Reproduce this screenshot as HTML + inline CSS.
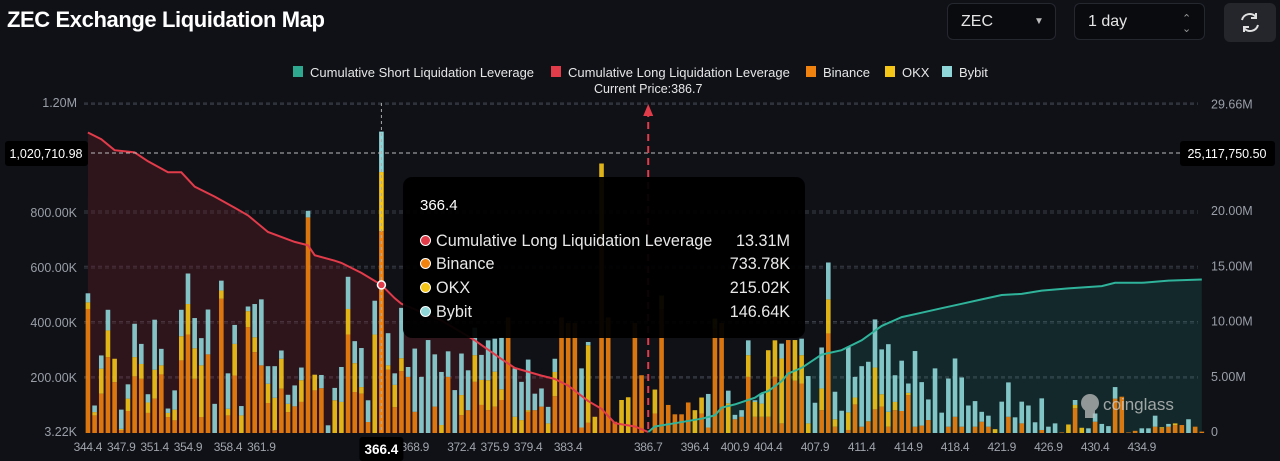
<!DOCTYPE html>
<html><head><meta charset="utf-8">
<style>
html,body{margin:0;padding:0;background:#0f1117;width:1280px;height:461px;overflow:hidden;font-family:"Liberation Sans Narrow","Liberation Sans",sans-serif;}
#root{position:relative;width:1280px;height:461px;}
.title{position:absolute;left:7px;top:7px;color:#fff;font-family:"Liberation Sans",sans-serif;font-weight:bold;font-size:22px;letter-spacing:-0.4px;}
.sel{position:absolute;top:3px;height:37px;background:#0a0b0f;border:1px solid #262830;border-radius:6px;box-sizing:border-box;color:#e6e6e6;font-size:16px;line-height:35px;padding-left:13px;}
.btn{position:absolute;left:1224px;top:3px;width:52px;height:39px;background:#24262c;border-radius:6px;}
svg{position:absolute;left:0;top:0;}
.tip{position:absolute;left:403px;top:177px;width:402px;height:161px;background:rgba(0,0,0,0.95);border-radius:9px;color:#e8e8e8;font-family:"Liberation Sans",sans-serif;}
.tip .hd{position:absolute;left:17px;top:20px;font-size:15px;color:#fff;}
.row{position:absolute;left:17px;width:370px;font-size:16.2px;height:20px;line-height:20px;}
.row .dot{display:inline-block;width:9px;height:9px;border-radius:50%;border:1px solid #fff;margin-right:5px;vertical-align:0px;}
.row .v{position:absolute;right:0;top:0;}
</style></head>
<body>
<div id="root">
<div class="title">ZEC Exchange Liquidation Map</div>
<div class="sel" style="left:947px;width:109px;">ZEC<span style="position:absolute;left:86px;top:0;font-size:10px;color:#bbb;">▼</span></div>
<div class="sel" style="left:1074px;width:131px;">1 day<span style="position:absolute;left:107px;top:-2px;font-size:11px;color:#999;line-height:10px;padding-top:12px;">⌃<br>⌄</span></div>
<div class="btn">
<svg width="52" height="39" viewBox="0 0 52 39" style="position:absolute;left:0;top:0"><path d="M18 17a8 8 0 0 1 14-3M34 22a8 8 0 0 1-14 3" stroke="#e0e0e0" stroke-width="2" fill="none"/><path d="M32 10v5h-5M20 29v-5h5" stroke="#e0e0e0" stroke-width="2" fill="none"/></svg>
</div>
<svg id="chart" width="1280" height="461"></svg>
<div class="tip">
<div class="hd">366.4</div>
<div class="row" style="top:54px"><span class="dot" style="background:#e23b4a"></span>Cumulative Long Liquidation Leverage<span class="v">13.31M</span></div>
<div class="row" style="top:77px"><span class="dot" style="background:#f0820f"></span>Binance<span class="v">733.78K</span></div>
<div class="row" style="top:101px"><span class="dot" style="background:#f5c518"></span>OKX<span class="v">215.02K</span></div>
<div class="row" style="top:125px"><span class="dot" style="background:#8ed6d8"></span>Bybit<span class="v">146.64K</span></div>
</div>
</div>
<script>
const binance=[451,64,143,276,185,10,80,206,197,73,125,213,58,46,264,358,197,58,286,0,488,64,209,0,385,294,246,109,10,161,76,97,113,784,155,163,0,0,0,358,149,143,40,0,734,230,94,225,
204,77,0,0,96,0,204,0,65,83,186,102,83,96,120,420,0,0,77,83,96,0,134,420,400,400,20,37,0,700,420,41,0,0,400,210,0,71,450,102,68,68,111,0,71,20,380,400,0,50,59,204,59,59,59,204,35,338,190,180,
0,0,83,362,23,0,11,104,23,41,86,96,23,83,80,138,23,27,47,0,0,23,59,23,0,23,41,23,0,0,59,0,35,0,0,11,0,0,2,0,90,0,0,41,0,0,125,132,2,8,0,0,23,17,23,29,29,0,23,5];
const okx=[24,12,91,97,85,5,45,70,54,38,105,33,15,39,88,111,111,188,0,0,30,24,115,64,58,54,0,70,118,109,30,0,79,0,57,0,0,119,113,93,105,24,0,358,215,16,81,47,
0,0,0,0,0,29,0,0,73,0,97,91,109,127,39,0,59,47,6,0,0,35,88,0,0,0,0,282,59,280,0,0,120,130,0,0,0,87,50,0,0,0,0,83,58,0,36,0,108,0,0,79,54,48,242,133,236,0,148,103,
35,0,79,124,27,0,64,25,0,2,152,45,54,30,0,8,0,0,0,0,0,0,0,0,0,0,0,0,14,0,0,0,0,0,0,0,0,0,0,31,12,19,0,0,0,0,0,0,0,0,0,0,0,4,0,6,0,0,0,0];
const bybit=[33,24,48,75,0,70,52,121,73,30,182,60,16,70,96,111,110,99,163,106,36,129,69,34,17,121,240,64,115,30,33,76,46,24,0,48,28,45,127,117,80,142,79,123,147,117,42,183,
36,230,204,338,190,193,93,156,151,145,100,91,145,120,190,0,176,139,184,60,66,60,48,0,0,0,215,12,0,0,0,0,0,0,0,0,0,0,0,0,0,0,0,0,0,122,0,0,46,16,24,54,6,36,0,0,54,0,0,60,
172,110,149,134,100,81,238,75,220,216,175,163,246,97,183,34,275,158,75,235,74,175,212,179,100,93,36,40,0,114,125,57,79,100,39,115,23,35,0,0,18,0,17,30,33,25,42,0,0,0,17,17,40,0,10,0,0,50,0,0];
const longIdx=[0,2,4,7,9,12,14,16,19,22,24,27,31,33,34,37,38,41,44,46,47,53,58,62,64,68,70,72,75,77,79,82,84];
const longVal=[27.1,26.5,25.5,25.3,24.5,23.5,23.5,22.2,21.3,20.3,19.6,18.1,17.2,16.9,16.0,15.5,15.3,14.4,13.31,12.1,11.6,10.1,8.3,6.6,5.8,5.1,4.8,4.2,2.8,2.1,0.8,0.5,0];
const shortIdx=[84,85,88,92,94,95,97,100,101,102,104,105,107,110,113,116,119,122,125,128,131,134,137,140,143,147,152,154,158,162,167];
const shortVal=[0,0.5,0.8,1.2,1.5,2.2,2.5,3.1,3.5,3.7,4.6,5.3,5.8,7.0,7.4,8.3,9.6,10.4,10.8,11.2,11.6,12.0,12.4,12.5,12.8,13.0,13.2,13.5,13.5,13.7,13.8];
const leftTicks=["3.22K","200.00K","400.00K","600.00K","800.00K","1.20M"];
const leftTickVals=[3.22,200,400,600,800,1200];
const rightTicks=["0","5.00M","10.00M","15.00M","20.00M","29.66M"];
const rightTickVals=[0,5,10,15,20,29.66];
const xLabelIdx=[0,5,10,15,21,26,49,56,61,66,72,84,91,97,102,109,116,123,130,137,144,151,158];
const xLabels=["344.4","347.9","351.4","354.9","358.4","361.9","368.9","372.4","375.9","379.4","383.4","386.7","396.4","400.9","404.4","407.9","411.4","414.9","418.4","421.9","426.9","430.4","434.9"];
const hoverIdx=44, hoverLabel="366.4", priceIdx=84;

const NS="http://www.w3.org/2000/svg";
const svg=document.getElementById('chart');
const X0=84.6,BW=6.67,BASE=433;
function xs(i){return X0+(i+0.5)*BW;}
function yl(v){return BASE-v/200*55;}
function yr(m){return 432-m*11.05;}
function el(tag,attrs,parent){const e=document.createElementNS(NS,tag);for(const k in attrs)e.setAttribute(k,attrs[k]);(parent||svg).appendChild(e);return e;}
function txt(s,attrs){const t=el('text',attrs);t.textContent=s;return t;}

const grid=el('g',{});


leftTickVals.forEach(v=>{if(v>10)el('line',{x1:84,x2:1198,y1:yl(v),y2:yl(v),stroke:'#3a3d46','stroke-dasharray':'4 3','stroke-width':1},grid);});
rightTickVals.forEach(v=>{if(v>0)el('line',{x1:84,x2:1198,y1:yr(v),y2:yr(v),stroke:'#3a3d46','stroke-dasharray':'4 3','stroke-width':1},grid);});

function pts(idx,val){return idx.map((i,k)=>xs(i).toFixed(1)+','+yr(val[k]).toFixed(1));}
const lp=pts(longIdx,longVal);
const la=el('polygon',{points:xs(longIdx[0])+','+BASE+' '+lp.join(' ')+' '+xs(longIdx[longIdx.length-1])+','+BASE,fill:'rgba(110,30,40,0.33)'});


const sp=pts(shortIdx,shortVal);
const sa=el('polygon',{points:xs(shortIdx[0])+','+BASE+' '+sp.join(' ')+' '+xs(shortIdx[shortIdx.length-1])+','+BASE,fill:'rgba(30,110,100,0.25)'});



const bw=4.6;
for(let i=0;i<binance.length;i++){
  const g=el('g',{});
  
  
  let base=0;
  [[binance[i],'#f0820f'],[okx[i],'#f5c518'],[bybit[i],'#8ed6d8']].forEach(([v,c])=>{
    if(v>0){const y1=yl(base),y2=yl(base+v);el('rect',{x:xs(i)-bw/2,y:y2,width:bw,height:y1-y2,fill:c,opacity:i===hoverIdx?1:0.9},g);}
    base+=v;
  });
}

const ll=el('polyline',{points:lp.join(' '),fill:'none',stroke:'#e23b4a','stroke-width':2});


const sl=el('polyline',{points:sp.join(' '),fill:'none',stroke:'#2fb39a','stroke-width':2});



const hx=xs(hoverIdx);
el('line',{x1:hx,x2:hx,y1:103,y2:BASE,stroke:'#aaa','stroke-dasharray':'3 3','stroke-width':1});
el('line',{x1:84,x2:1198,y1:153,y2:153,stroke:'#bbb','stroke-dasharray':'4 3','stroke-width':1});
const hd=el('circle',{cx:hx,cy:yr(longVal[longIdx.indexOf(hoverIdx)]),r:4,fill:'#e23b4a',stroke:'#fff','stroke-width':1.5});



const px=xs(priceIdx);
const pl=el('line',{x1:px,x2:px,y1:110,y2:BASE,stroke:'#e23b4a','stroke-dasharray':'7 5','stroke-width':2});


el('polygon',{points:(px-5)+',116 '+px+',104 '+(px+5)+',116',fill:'#e23b4a'});
const cpt=txt('Current Price:386.7',{x:px,y:93,fill:'#e6e6e6','font-size':12.5,'text-anchor':'middle'});



leftTicks.forEach((s,k)=>{const t=txt(s,{x:77,y:yl(leftTickVals[k])+4,fill:'#9a9ea6','font-size':12.5,'text-anchor':'end'});

});
rightTicks.forEach((s,k)=>{const t=txt(s,{x:1211,y:yr(rightTickVals[k])+4,fill:'#9a9ea6','font-size':12.5});

});
xLabels.forEach((s,k)=>{const t=txt(s,{x:xs(xLabelIdx[k]),y:451,fill:'#a0a4ab','font-size':12,'letter-spacing':'-0.3','text-anchor':'middle'});

});
el('rect',{x:hx-22,y:437,width:44,height:24,rx:3,fill:'#000'});
const hl=txt(hoverLabel,{x:hx,y:454,fill:'#fff','font-size':13.5,'font-weight':'bold','text-anchor':'middle'});


el('rect',{x:5,y:141,width:83,height:25,rx:3,fill:'#000'});
const lv=txt('1,020,710.98',{x:46,y:158,fill:'#fff','font-size':12.5,'text-anchor':'middle'});


el('rect',{x:1180,y:141,width:95,height:25,rx:3,fill:'#000'});
const rv=txt('25,117,750.50',{x:1227,y:158,fill:'#fff','font-size':12.5,'text-anchor':'middle'});



const legItems=[['Cumulative Short Liquidation Leverage','#2fa890',293],['Cumulative Long Liquidation Leverage','#e23b4a',551],['Binance','#f0820f',806],['OKX','#f5c518',885],['Bybit','#8ed6d8',942]];
legItems.forEach(([s,c,x])=>{const g=el('g',{});


el('rect',{x:x,y:66,width:10,height:11,fill:c},g);
const t=el('text',{x:x+17,y:77,fill:'#e6e6e6','font-size':13},g);t.textContent=s;});

const wm=el('g',{opacity:0.75});


el('circle',{cx:1090,cy:403,r:9,fill:'#bdbdbd'},wm);
el('rect',{x:1085,y:410,width:10,height:8,fill:'#bdbdbd'},wm);
const wt=el('text',{x:1103,y:410,fill:'#cfcfcf','font-size':17,'font-family':'Liberation Sans, sans-serif'},wm);wt.textContent='coinglass';
</script>
</body></html>
